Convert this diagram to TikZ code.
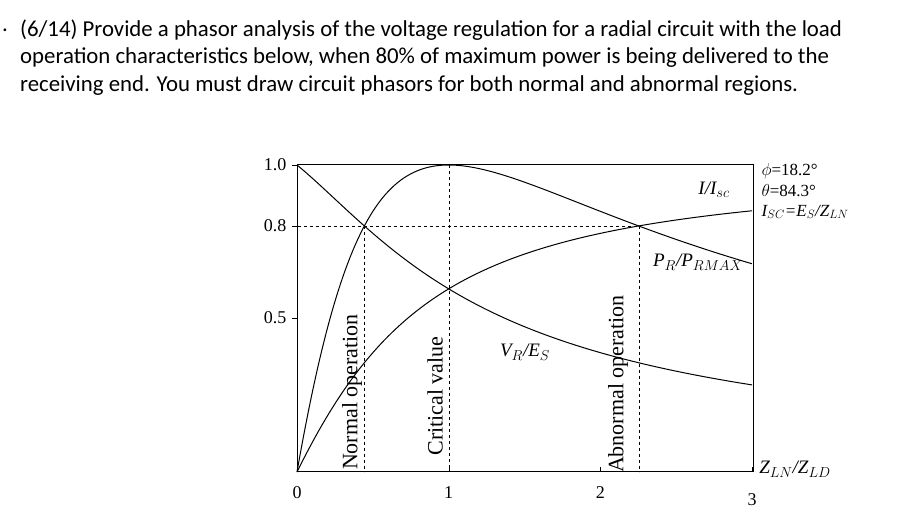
\documentclass[tikz,border=0pt]{standalone}
\usepackage{fontspec}
\setmainfont{Liberation Serif}
\newfontfamily\calfont{Carlito}
\begin{document}
\begin{tikzpicture}[x=1pt,y=-1pt,
  crv/.style={line width=1pt},
  dsh/.style={dashed,line width=0.8pt},
  lbl/.style={font=\fontsize{18}{18}\selectfont},
  ilbl/.style={font=\itshape\fontsize{19}{19}\selectfont},
  rlbl/.style={font=\fontsize{22}{22}\selectfont,rotate=90},
  ttl/.style={font=\calfont\fontsize{22.8}{22.8}\selectfont,anchor=west,inner sep=0}]
\useasboundingbox (0,0) rectangle (900,518);
\fill[white] (0,0) rectangle (900,518);
\def\c{0.405}
\node[ttl] (t0) at (2,30) {.};
\node[ttl] (t1) at (20,30) {(6/14) Provide a phasor analysis of the voltage regulation for a radial circuit with the load};
\node[ttl] (t2) at (20,58) {operation characteristics below, when 80\% of maximum power is being delivered to the};
\node[ttl] (t3) at (20,86) {receiving end. You must draw circuit phasors for both normal and abnormal regions.};
% frame
\draw[line width=1pt] (297,165) rectangle (753,472);
% ticks
\foreach \yv/\t in {165/1.0,226/0.8,318/0.5}{
  \draw (292,\yv) -- (297,\yv);
  \node[lbl,anchor=east] at (290,\yv) {\t};}
\foreach \a/\t/\yy in {0/0/493,1/1/493,2/2/493,3/3/500}{
  \draw ({297+151.7*\a},472) -- ({297+151.7*\a},467);
  \node[lbl] at ({297+151.7*\a},\yy) {\t};}
% dashed
\draw[dsh] (292,226) -- ({297+151.7*2.26},226);
\draw[dsh] ({297+151.7*0.4425},226) -- ({297+151.7*0.4425},472);
\draw[dsh] ({297+151.7*2.26},226) -- ({297+151.7*2.26},472);
\draw[dsh] (449,165) -- (449,472);
% curves
\draw[crv] plot[domain=0:3,samples=120,smooth] ({297+151.7*\x},{472-307/sqrt(1+\x*\x+2*\x*\c)});
\draw[crv] plot[domain=0:3,samples=120,smooth] ({297+151.7*\x},{472-307*\x/sqrt(1+\x*\x+2*\x*\c)});
\draw[crv] plot[domain=0:3,samples=150,smooth] ({297+151.7*\x},{472-307*\x*(2+2*\c)/(1+\x*\x+2*\x*\c)});
% labels
\node[ilbl] (ii) at (714,190) {I/I$_{sc}$};
\node[ilbl] (pp) at (698,262) {P$_R$/P$_{RMAX}$};
\node[ilbl] (vv) at (525,352) {V$_R$/E$_S$};
\node[ilbl] (zz) at (795,469) {Z$_{LN}$/Z$_{LD}$};
\node[rlbl] (no) at (352,392) {Normal operation};
\node[rlbl] (cv) at (435,396) {Critical value};
\node[rlbl] (ab) at (618,384) {Abnormal operation};
\node[font=\fontsize{17}{17}\selectfont,anchor=west] (ph) at (758,171) {$\phi$=18.2\textdegree};
\node[font=\fontsize{17}{17}\selectfont,anchor=west] (th) at (758,191) {$\theta$=84.3\textdegree};
\node[font=\itshape\fontsize{17}{17}\selectfont,anchor=west] (is) at (758,212) {I$_{SC}$=E$_S$/Z$_{LN}$};
\end{tikzpicture}
\end{document}
